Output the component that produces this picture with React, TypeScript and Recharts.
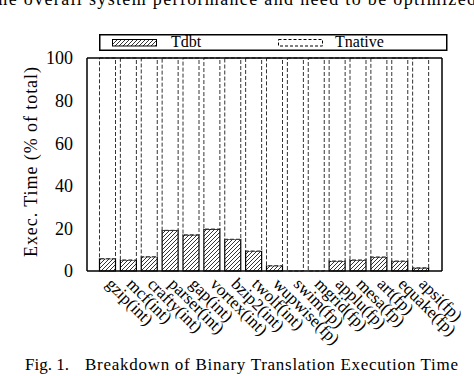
import { BarChart, Bar, XAxis, YAxis, Legend } from 'recharts';

const SERIF = '"Liberation Serif", "DejaVu Serif", serif';

const benchmarks = [
  'gzip(int)', 'mcf(int)', 'crafty(int)', 'parser(int)', 'gap(int)', 'vortex(int)',
  'bzip2(int)', 'twolf(int)', 'wupwise(fp)', 'swim(fp)', 'mgrid(fp)', 'applu(fp)',
  'mesa(fp)', 'art(fp)', 'equake(fp)', 'apsi(fp)'
];
const tdbtShare = [5.8, 5.2, 6.7, 19.1, 17.0, 19.7, 14.9, 9.4, 2.5, 0, 0, 4.7, 5.2, 6.6, 4.7, 1.5];
const tnativeShare = [94.2, 94.8, 93.3, 80.9, 83.0, 80.3, 85.1, 90.6, 97.5, 100, 100, 95.3, 94.8, 93.4, 95.3, 98.5];
const yTicks = [0, 20, 40, 60, 80, 100];

const data = benchmarks.map((name, i) => ({ name, tdbt: tdbtShare[i], tnative: tnativeShare[i] }));

const SlantTick = ({ x, y, payload }: any) => (
  <text
    x={x - 3}
    y={y + 6}
    transform={`rotate(45 ${x - 3} ${y + 6})`}
    textAnchor="start"
    fontFamily={SERIF}
    fontSize={17}
    fill="#000"
  >
    {payload.value}
  </text>
);

const LegendBox = () => (
  <svg width={349} height={17} style={{ display: 'block', overflow: 'visible' }}>
    <defs>
      <pattern id="hatchKey" patternUnits="userSpaceOnUse" width={4} height={4}>
        <path d="M-1,1 l2,-2 M0,4 l4,-4 M3,5 l2,-2" stroke="#000" strokeWidth={0.8} />
      </pattern>
    </defs>
    <rect x={0.75} y={0.75} width={347} height={15.5} fill="#fff" stroke="#000" strokeWidth={1.5} />
    <rect x={13.5} y={5.5} width={44} height={6.5} fill="url(#hatchKey)" stroke="#000" />
    <text x={72} y={13} fontFamily={SERIF} fontSize={16} fill="#000">Tdbt</text>
    <rect x={179.5} y={5.5} width={44} height={6.5} fill="#fff" stroke="#000" strokeDasharray="3 2" />
    <text x={236} y={13} fontFamily={SERIF} fontSize={16} fill="#000">Tnative</text>
  </svg>
);

export default function App() {
  return (
    <div style={{ position: 'absolute', left: 0, top: 0, width: 474, height: 376, background: '#fff' }}>
      <BarChart
        width={474}
        height={376}
        data={data}
        margin={{ top: 58, right: 32, bottom: 0, left: 0 }}
        barCategoryGap={0}
      >
        <defs>
          <pattern id="hatch" patternUnits="userSpaceOnUse" width={4} height={4}>
            <path d="M-1,1 l2,-2 M0,4 l4,-4 M3,5 l2,-2" stroke="#000" strokeWidth={0.8} />
          </pattern>
        </defs>
        <XAxis
          dataKey="name"
          height={105}
          padding={{ left: 10.5, right: 10.5 }}
          interval={0}
          axisLine={{ stroke: '#000', strokeWidth: 1.5 }}
          tickLine={false}
          tickSize={6}
          tickMargin={2}
          tick={<SlantTick />}
        />
        <XAxis
          xAxisId="top"
          dataKey="name"
          orientation="top"
          mirror
          padding={{ left: 10.5, right: 10.5 }}
          axisLine={{ stroke: '#000', strokeWidth: 1.5 }}
          tickLine={false}
          tick={false}
        />
        <YAxis
          yAxisId="left"
          width={87}
          domain={[0, 100]}
          ticks={yTicks}
          axisLine={{ stroke: '#000', strokeWidth: 1.5 }}
          tickLine={false}
          tickSize={6}
          tickMargin={8}
          tick={{ fontFamily: SERIF, fontSize: 18, fill: '#000' }}
        />
        <YAxis
          yAxisId="leftTicks"
          mirror
          domain={[0, 100]}
          ticks={yTicks}
          axisLine={false}
          tickLine={{ stroke: '#000', strokeWidth: 1.5 }}
          tickSize={6}
          tick={false}
        />
        <YAxis
          yAxisId="right"
          orientation="right"
          mirror
          domain={[0, 100]}
          ticks={yTicks}
          axisLine={{ stroke: '#000', strokeWidth: 1.5 }}
          tickLine={{ stroke: '#000', strokeWidth: 1.5 }}
          tickSize={6}
          tick={false}
        />
        <Legend
          verticalAlign="middle"
          layout="horizontal"
          content={<LegendBox />}
          wrapperStyle={{ top: 34, left: 99, width: 349, height: 17 }}
        />
        <Bar
          yAxisId="left"
          dataKey="tdbt"
          name="Tdbt"
          stackId="t"
          barSize={16}
          fill="url(#hatch)"
          stroke="#000"
          strokeWidth={1.2}
          isAnimationActive={false}
        />
        <Bar
          yAxisId="left"
          dataKey="tnative"
          name="Tnative"
          stackId="t"
          barSize={16}
          fill="#fff"
          stroke="#333"
          strokeWidth={1}
          strokeDasharray="4 2"
          isAnimationActive={false}
        />
      </BarChart>
      <svg
        width={474}
        height={376}
        style={{ position: 'absolute', left: 0, top: 0, pointerEvents: 'none' }}
      >
        <text x={-8} y={5} fontFamily={SERIF} fontSize={18} fill="#000" textLength={484} lengthAdjust="spacing">
          the overall system performance and need to be optimized
        </text>
        <text
          x={31}
          y={162}
          transform="rotate(-90 31 162)"
          textAnchor="middle"
          dominantBaseline="central"
          fontFamily={SERIF}
          fontSize={18}
          fill="#000"
          textLength={190}
          lengthAdjust="spacing"
        >
          Exec. Time (% of total)
        </text>
        <text x={25} y={370} fontFamily={SERIF} fontSize={17} fill="#000">Fig. 1.</text>
        <text x={85} y={370} fontFamily={SERIF} fontSize={17} fill="#000" textLength={373} lengthAdjust="spacing">
          Breakdown of Binary Translation Execution Time
        </text>
      </svg>
    </div>
  );
}
